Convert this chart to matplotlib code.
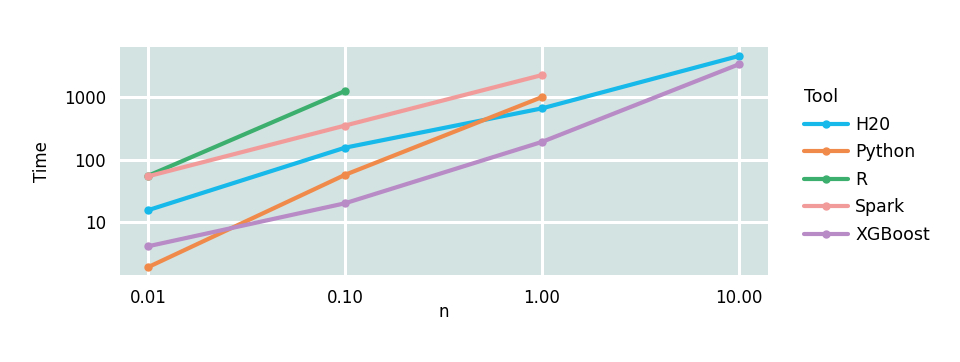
"""
Log-log timing chart: training time vs. dataset size per tool
"""
import matplotlib
matplotlib.use("Agg")
import matplotlib.pyplot as plt
from matplotlib.ticker import FixedLocator, FixedFormatter, NullLocator

# data
tools = ["H20", "Python", "R", "Spark", "XGBoost"]
n_h20 = [0.01, 0.1, 1, 10]
t_h20 = [15.5, 155, 660, 4550]
n_python = [0.01, 0.1, 1]
t_python = [1.9, 57, 1000]
n_r = [0.01, 0.1]
t_r = [55, 1250]
n_spark = [0.01, 0.1, 1]
t_spark = [54, 350, 2250]
n_xgb = [0.01, 0.1, 1, 10]
t_xgb = [4.1, 20, 192, 3350]

x_ticks = [0.01, 0.1, 1, 10]
x_labels = ["0.01", "0.10", "1.00", "10.00"]
y_ticks = [10, 100, 1000]
y_labels = ["10", "100", "1000"]

colors = ["#16b9ea", "#f08a4b", "#3caf6e", "#f29b9b", "#b88ac6"]
series = [(n_h20, t_h20), (n_python, t_python), (n_r, t_r),
          (n_spark, t_spark), (n_xgb, t_xgb)]

plt.rcParams['font.family'] = ['DejaVu Sans']

fig = plt.figure(figsize=(9.6, 3.62), dpi=100)
ax = fig.add_axes([0.125, 0.24, 0.675, 0.63])
ax.set_facecolor("#d3e3e1")

for name, (xs, ys), c in zip(tools, series, colors):
    ax.plot(xs, ys, color=c, lw=3, marker="o", ms=5, label=name,
            solid_capstyle="round", zorder=3)

ax.set_xscale("log")
ax.set_yscale("log")
ax.set_xlim(10 ** -2.142, 10 ** 1.147)
ax.set_ylim(10 ** 0.152, 10 ** 3.8)

ax.xaxis.set_major_locator(FixedLocator(x_ticks))
ax.xaxis.set_major_formatter(FixedFormatter(x_labels))
ax.xaxis.set_minor_locator(NullLocator())
ax.yaxis.set_major_locator(FixedLocator(y_ticks))
ax.yaxis.set_major_formatter(FixedFormatter(y_labels))
ax.yaxis.set_minor_locator(NullLocator())

ax.grid(True, color="white", lw=2.2, zorder=1)
ax.set_axisbelow(True)
ax.tick_params(axis="x", length=0, labelsize=12, colors="black", pad=10)
ax.tick_params(axis="y", length=0, labelsize=12, colors="black", pad=10)
for s in ax.spines.values():
    s.set_visible(False)

ax.set_xlabel("n", fontsize=12, labelpad=-3)
ax.set_ylabel("Time", fontsize=12, labelpad=9)

leg = ax.legend(title="Tool", loc="upper left", bbox_to_anchor=(1.045, 0.85),
                frameon=False, fontsize=12.5, title_fontsize=12.5,
                handlelength=2.5, labelspacing=0.55, handletextpad=0.45,
                borderaxespad=0)
leg._legend_box.align = "left"

plt.savefig("out.png", dpi=100, facecolor="white")
plt.close()
